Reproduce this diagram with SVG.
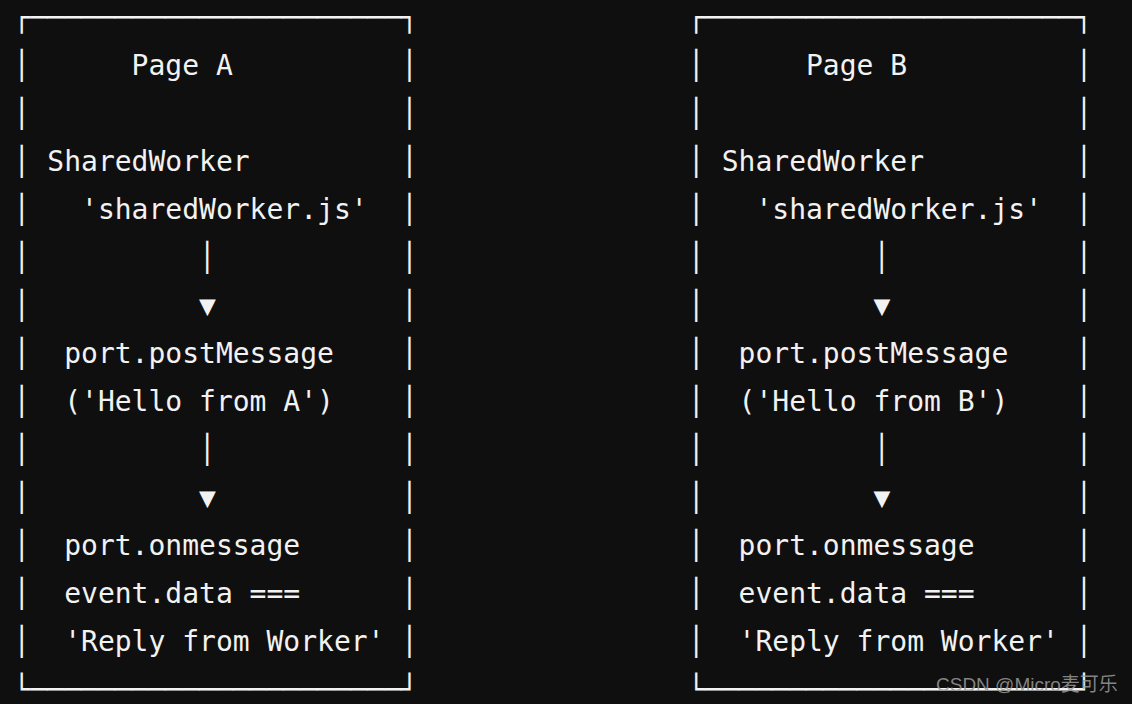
<svg xmlns="http://www.w3.org/2000/svg" width="1132" height="704" viewBox="0 0 1132 704">
  <style>
    .t { font-family: "DejaVu Sans Mono", "Liberation Mono", monospace; font-size: 28px; fill: #f2f2f2; }
    .wm { font-family: "Liberation Sans", "Noto Sans CJK SC", sans-serif; font-size: 19px; fill: #9a9a9a; fill-opacity: 0.85; }
  </style>
  <rect width="1132" height="704" fill="#0f0f0f"/>
  <g id="page-a" class="t">
    <text x="13.6" y="27">┌──────────────────────┐</text>
    <text x="13.6" y="75">│&#160;&#160;&#160;&#160;&#160;&#160;Page&#160;A&#160;&#160;&#160;&#160;&#160;&#160;&#160;&#160;&#160;&#160;│</text>
    <text x="13.6" y="123">│&#160;&#160;&#160;&#160;&#160;&#160;&#160;&#160;&#160;&#160;&#160;&#160;&#160;&#160;&#160;&#160;&#160;&#160;&#160;&#160;&#160;&#160;│</text>
    <text x="13.6" y="171">│&#160;SharedWorker&#160;&#160;&#160;&#160;&#160;&#160;&#160;&#160;&#160;│</text>
    <text x="13.6" y="219">│&#160;&#160;&#160;'sharedWorker.js'&#160;&#160;│</text>
    <text x="13.6" y="267">│&#160;&#160;&#160;&#160;&#160;&#160;&#160;&#160;&#160;&#160;│&#160;&#160;&#160;&#160;&#160;&#160;&#160;&#160;&#160;&#160;&#160;│</text>
    <text x="13.6" y="315">│&#160;&#160;&#160;&#160;&#160;&#160;&#160;&#160;&#160;&#160;▼&#160;&#160;&#160;&#160;&#160;&#160;&#160;&#160;&#160;&#160;&#160;│</text>
    <text x="13.6" y="363">│&#160;&#160;port.postMessage&#160;&#160;&#160;&#160;│</text>
    <text x="13.6" y="411">│&#160;&#160;('Hello&#160;from&#160;A')&#160;&#160;&#160;&#160;│</text>
    <text x="13.6" y="459">│&#160;&#160;&#160;&#160;&#160;&#160;&#160;&#160;&#160;&#160;│&#160;&#160;&#160;&#160;&#160;&#160;&#160;&#160;&#160;&#160;&#160;│</text>
    <text x="13.6" y="507">│&#160;&#160;&#160;&#160;&#160;&#160;&#160;&#160;&#160;&#160;▼&#160;&#160;&#160;&#160;&#160;&#160;&#160;&#160;&#160;&#160;&#160;│</text>
    <text x="13.6" y="555">│&#160;&#160;port.onmessage&#160;&#160;&#160;&#160;&#160;&#160;│</text>
    <text x="13.6" y="603">│&#160;&#160;event.data&#160;===&#160;&#160;&#160;&#160;&#160;&#160;│</text>
    <text x="13.6" y="651">│&#160;&#160;'Reply&#160;from&#160;Worker'&#160;│</text>
    <text x="13.6" y="699">└──────────────────────┘</text>
  </g>
  <g id="page-b" class="t">
    <text x="688" y="27">┌──────────────────────┐</text>
    <text x="688" y="75">│&#160;&#160;&#160;&#160;&#160;&#160;Page&#160;B&#160;&#160;&#160;&#160;&#160;&#160;&#160;&#160;&#160;&#160;│</text>
    <text x="688" y="123">│&#160;&#160;&#160;&#160;&#160;&#160;&#160;&#160;&#160;&#160;&#160;&#160;&#160;&#160;&#160;&#160;&#160;&#160;&#160;&#160;&#160;&#160;│</text>
    <text x="688" y="171">│&#160;SharedWorker&#160;&#160;&#160;&#160;&#160;&#160;&#160;&#160;&#160;│</text>
    <text x="688" y="219">│&#160;&#160;&#160;'sharedWorker.js'&#160;&#160;│</text>
    <text x="688" y="267">│&#160;&#160;&#160;&#160;&#160;&#160;&#160;&#160;&#160;&#160;│&#160;&#160;&#160;&#160;&#160;&#160;&#160;&#160;&#160;&#160;&#160;│</text>
    <text x="688" y="315">│&#160;&#160;&#160;&#160;&#160;&#160;&#160;&#160;&#160;&#160;▼&#160;&#160;&#160;&#160;&#160;&#160;&#160;&#160;&#160;&#160;&#160;│</text>
    <text x="688" y="363">│&#160;&#160;port.postMessage&#160;&#160;&#160;&#160;│</text>
    <text x="688" y="411">│&#160;&#160;('Hello&#160;from&#160;B')&#160;&#160;&#160;&#160;│</text>
    <text x="688" y="459">│&#160;&#160;&#160;&#160;&#160;&#160;&#160;&#160;&#160;&#160;│&#160;&#160;&#160;&#160;&#160;&#160;&#160;&#160;&#160;&#160;&#160;│</text>
    <text x="688" y="507">│&#160;&#160;&#160;&#160;&#160;&#160;&#160;&#160;&#160;&#160;▼&#160;&#160;&#160;&#160;&#160;&#160;&#160;&#160;&#160;&#160;&#160;│</text>
    <text x="688" y="555">│&#160;&#160;port.onmessage&#160;&#160;&#160;&#160;&#160;&#160;│</text>
    <text x="688" y="603">│&#160;&#160;event.data&#160;===&#160;&#160;&#160;&#160;&#160;&#160;│</text>
    <text x="688" y="651">│&#160;&#160;'Reply&#160;from&#160;Worker'&#160;│</text>
    <text x="688" y="699">└──────────────────────┘</text>
  </g>
  <g id="connectors"></g>
  <text class="wm" x="936" y="691">CSDN @Micro麦可乐</text>
</svg>
